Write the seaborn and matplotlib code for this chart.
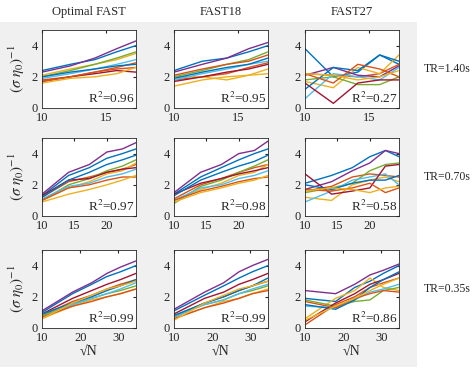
import numpy as np
import pandas as pd
import matplotlib
matplotlib.use("Agg")
import matplotlib.pyplot as plt
import seaborn as sns
from matplotlib.patches import Rectangle

sns.set_style("white")
plt.rcParams['font.family'] = ['Liberation Serif', 'DejaVu Serif']
plt.rcParams['mathtext.fontset'] = 'stix'

# MATLAB default colour order, cycled over 10 lines
colors = ["#0072BD", "#D95319", "#EDB120", "#7E2F8E", "#77AC30",
          "#4DBEEE", "#A2142F", "#0072BD", "#D95319", "#EDB120"]

methods = ["Optimal FAST", "FAST18", "FAST27"]
tr_labels = ["TR=1.40s", "TR=0.70s", "TR=0.35s"]

# sqrt(N) sample points per TR row
x_tr140 = [10, 12.2, 14.1, 15.8, 17.3]
x_tr070 = [10, 14.1, 17.3, 20, 22.4, 24.5]
x_tr035 = [10, 18, 23, 27, 30.5, 34.6]

# (sigma eta0)^-1 curves, 10 per panel
opt_140 = [[2.4, 2.8, 3.1, 3.6, 4.0], [1.8, 2.0, 2.3, 2.6, 2.9], [2.1, 2.5, 2.8, 3.1, 3.5],
           [2.3, 2.7, 3.2, 3.8, 4.3], [2.0, 2.4, 2.8, 3.2, 3.6], [1.9, 2.2, 2.5, 2.8, 3.1],
           [1.7, 2.0, 2.2, 2.4, 2.3], [2.0, 2.3, 2.5, 2.7, 2.8], [1.7, 2.0, 2.3, 2.5, 2.6],
           [1.6, 1.9, 2.0, 2.2, 2.6]]
f18_140 = [[2.4, 3.0, 3.2, 3.6, 4.0], [1.8, 2.0, 2.2, 2.6, 2.9], [2.0, 2.0, 1.8, 2.1, 2.5],
           [2.3, 2.8, 3.2, 3.8, 4.2], [2.0, 2.4, 2.8, 3.1, 3.6], [1.8, 2.2, 2.5, 2.8, 3.0],
           [1.7, 2.0, 2.3, 2.5, 2.8], [1.9, 2.3, 2.6, 2.8, 3.2], [2.1, 2.5, 2.8, 3.0, 3.4],
           [1.4, 1.8, 2.0, 2.1, 2.2]]
f27_140 = [[3.8, 2.0, 2.3, 3.4, 2.8], [2.2, 2.1, 2.0, 2.2, 2.8], [1.7, 1.3, 2.6, 2.2, 3.4],
           [2.1, 2.6, 2.1, 2.0, 2.7], [1.8, 2.0, 1.5, 1.5, 2.0], [0.6, 2.2, 2.0, 1.8, 2.6],
           [1.6, 0.3, 1.6, 1.8, 1.8], [1.2, 2.6, 2.4, 3.4, 3.0], [2.2, 1.6, 2.8, 2.5, 2.0],
           [2.2, 2.1, 1.8, 2.0, 2.4]]

opt_070 = [[1.3, 2.6, 3.1, 3.7, 4.0, 4.3], [1.2, 2.2, 2.5, 2.8, 3.0, 3.3],
           [1.0, 1.8, 2.2, 2.7, 2.9, 3.4], [1.4, 2.8, 3.3, 4.1, 4.3, 4.7],
           [1.0, 2.0, 2.4, 2.9, 3.2, 3.6], [1.1, 1.9, 2.1, 2.5, 2.7, 3.0],
           [1.3, 2.3, 2.4, 2.8, 3.0, 3.1], [1.2, 2.3, 2.8, 3.3, 3.6, 3.9],
           [1.0, 1.8, 2.0, 2.3, 2.5, 2.5], [0.9, 1.4, 1.7, 2.0, 2.3, 2.6]]
f18_070 = [[1.4, 2.5, 3.1, 3.6, 4.0, 4.3], [1.1, 2.0, 2.4, 2.8, 3.1, 3.3],
           [1.0, 1.7, 2.1, 2.6, 2.8, 3.3], [1.5, 2.8, 3.3, 4.0, 4.2, 4.8],
           [0.8, 1.9, 2.3, 2.8, 3.2, 3.6], [1.0, 1.8, 2.0, 2.4, 2.6, 2.9],
           [1.4, 2.1, 2.4, 2.7, 2.9, 3.1], [1.3, 2.3, 2.8, 3.2, 3.5, 3.9],
           [1.0, 1.6, 1.9, 2.2, 2.4, 2.5], [0.9, 1.5, 1.8, 2.1, 2.3, 2.6]]
f27_070 = [[2.1, 2.6, 3.1, 3.8, 4.2, 3.8], [1.6, 1.9, 2.5, 2.7, 2.6, 2.5],
           [1.2, 1.0, 2.0, 2.3, 2.5, 2.2], [1.7, 2.2, 2.9, 3.4, 4.2, 4.0],
           [1.5, 1.8, 2.1, 2.9, 3.3, 3.4], [0.9, 1.6, 2.3, 2.5, 2.7, 2.0],
           [2.7, 1.4, 1.6, 1.8, 3.2, 3.3], [2.0, 1.7, 2.1, 2.3, 2.3, 2.6],
           [1.7, 1.6, 1.8, 2.1, 1.5, 1.8], [1.6, 1.8, 1.7, 1.5, 1.8, 1.9]]

opt_035 = [[1.0, 2.2, 2.8, 3.3, 3.6, 4.0], [0.8, 1.7, 2.1, 2.5, 2.8, 3.1],
           [0.6, 1.4, 1.8, 2.0, 2.2, 2.5], [1.1, 2.3, 2.9, 3.5, 3.9, 4.3],
           [0.8, 1.5, 1.9, 2.2, 2.4, 2.7], [0.7, 1.5, 1.9, 2.2, 2.5, 2.9],
           [0.9, 1.9, 2.4, 2.8, 3.1, 3.5], [0.9, 1.6, 2.0, 2.4, 2.7, 3.1],
           [0.7, 1.4, 1.7, 2.0, 2.2, 2.5], [0.6, 1.6, 2.1, 2.5, 2.7, 3.0]]
f18_035 = [[1.1, 2.1, 2.7, 3.2, 3.6, 4.0], [0.7, 1.6, 2.0, 2.4, 2.7, 3.0],
           [0.6, 1.3, 1.7, 1.9, 2.2, 2.5], [1.2, 2.3, 2.9, 3.6, 4.0, 4.4],
           [0.8, 1.5, 1.8, 2.2, 2.4, 2.7], [0.7, 1.5, 1.8, 2.2, 2.5, 2.8],
           [0.9, 1.9, 2.3, 2.8, 3.1, 3.5], [0.8, 1.6, 2.0, 2.4, 2.7, 3.2],
           [0.6, 1.3, 1.6, 1.9, 2.2, 2.4], [0.5, 1.6, 2.1, 2.5, 2.7, 3.0]]
f27_035 = [[1.9, 1.7, 2.6, 3.0, 3.5, 4.0], [0.2, 1.5, 2.0, 2.6, 2.9, 3.2],
           [0.6, 1.9, 2.4, 3.2, 2.6, 2.4], [2.4, 2.2, 2.8, 3.4, 3.7, 4.1],
           [1.8, 1.4, 1.7, 1.8, 2.4, 2.6], [1.4, 1.3, 1.8, 2.3, 2.5, 2.8],
           [0.4, 1.6, 2.2, 2.8, 3.1, 3.5], [1.5, 1.2, 1.8, 2.6, 3.1, 3.6],
           [1.7, 1.3, 1.9, 2.2, 2.4, 2.3], [0.5, 1.4, 1.9, 2.4, 2.8, 3.2]]

r2_values = [["0.96", "0.95", "0.27"],
             ["0.97", "0.98", "0.58"],
             ["0.99", "0.99", "0.86"]]

rows = [(x_tr140, [opt_140, f18_140, f27_140], [10, 15], 17.3),
        (x_tr070, [opt_070, f18_070, f27_070], [10, 15, 20], 24.5),
        (x_tr035, [opt_035, f18_035, f27_035], [10, 20, 30], 34.6)]

W, H = 474, 369
fig = plt.figure(figsize=(W / 100, H / 100), dpi=100)
# grey panel behind the subplot grid
fig.patches.append(Rectangle((0, 1 - 367 / H), 417 / W, (367 - 22) / H,
                             transform=fig.transFigure, facecolor="#f0f0f0",
                             edgecolor="none", zorder=-10))

col_left = [42, 174, 305]
row_bottom = [108, 216, 328]
ax_w, ax_h = 94, 78

for r, (xs, panels, xticks, xmax) in enumerate(rows):
    for c, lines in enumerate(panels):
        ax = fig.add_axes([col_left[c] / W, 1 - row_bottom[r] / H, ax_w / W, ax_h / H])
        ax.set_zorder(2)
        df = pd.DataFrame([(str(i), x, y) for i, ys in enumerate(lines)
                           for x, y in zip(xs, ys)], columns=["line", "x", "y"])
        sns.lineplot(data=df, x="x", y="y", hue="line", palette=colors,
                     legend=False, linewidth=1.0, ax=ax, sort=False)
        ax.set_xlim(10, xmax)
        ax.set_ylim(0, 5)
        ax.set_xticks(xticks)
        ax.set_yticks([0, 2, 4])
        ax.tick_params(direction="in", length=2, labelsize=9, pad=3,
                       top=True, right=True, colors="#262626")
        for s in ax.spines.values():
            s.set_linewidth(0.6)
            s.set_color("#262626")
        ax.set_xlabel("√N" if r == 2 else "", fontsize=10, labelpad=1)
        if c == 0:
            ax.set_ylabel(r"$(\sigma\ \eta_0)^{-1}$", fontsize=11, labelpad=3)
        else:
            ax.set_ylabel("")
        ax.text(0.98, 0.03, r"R$^2$=" + r2_values[r][c], transform=ax.transAxes,
                ha="right", va="bottom", fontsize=9.5)
        if r == 0:
            fig.text((col_left[c] + ax_w / 2) / W, 1 - 12 / H, methods[c],
                     ha="center", va="center", fontsize=9)
    fig.text(424 / W, 1 - (row_bottom[r] - ax_h / 2) / H, tr_labels[r],
             ha="left", va="center", fontsize=8.5)

fig.savefig("out.png", dpi=100)
